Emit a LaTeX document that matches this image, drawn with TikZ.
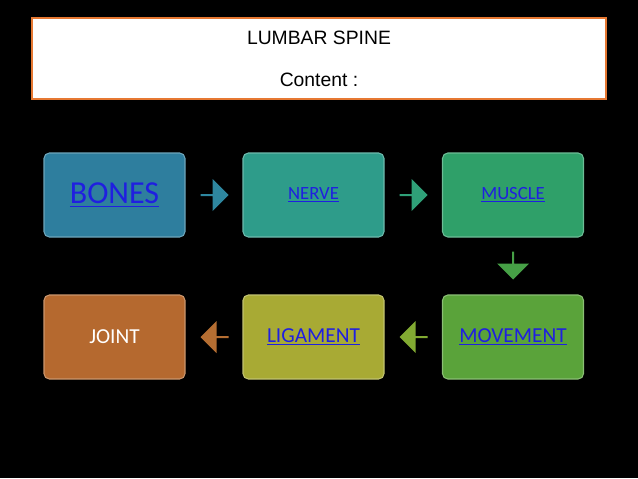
\documentclass[tikz,border=0pt]{standalone}
\usepackage{fontspec}
\setmainfont{Carlito}
\newfontfamily\titlefont{Liberation Sans}
\usetikzlibrary{shapes.arrows}
\definecolor{linkblue}{HTML}{1F1FE0}
\definecolor{cbones}{RGB}{46,126,158}
\definecolor{cnerve}{RGB}{46,156,138}
\definecolor{cmuscle}{RGB}{47,160,105}
\definecolor{cmove}{RGB}{90,163,58}
\definecolor{clig}{RGB}{168,170,52}
\definecolor{cjoint}{RGB}{181,105,47}
\definecolor{ca1}{RGB}{46,135,160}
\definecolor{ca2}{RGB}{47,160,120}
\definecolor{ca3}{RGB}{70,160,70}
\definecolor{ca4}{RGB}{130,170,50}
\definecolor{ca5}{RGB}{181,110,50}
\definecolor{corange}{RGB}{230,120,50}
\begin{document}
\begin{tikzpicture}[x=0.75pt,y=-0.75pt,
  box/.style={draw=#1!70!white, line width=0.8pt, fill=#1, rounded corners=4pt, minimum width=105.75pt, minimum height=63pt, inner sep=0pt},
  arr/.style={single arrow, fill=#1, draw=none, minimum height=21pt, minimum width=24pt, single arrow head extend=3pt, inner sep=0pt}]
\fill[black] (0,0) rectangle (638,478);
\node[draw=corange, line width=1pt, fill=white, minimum width=430.5pt, minimum height=60.75pt, inner sep=0pt] (title) at (319,58.5) {};
\node[font=\titlefont\fontsize{14.5}{16}\selectfont] (t1) at (319,38) {LUMBAR SPINE};
\node[font=\titlefont\fontsize{14.5}{16}\selectfont] (t2) at (319,80) {Content :};
\node[box=cbones] (bones) at (114.5,195) {\fontsize{24}{28}\selectfont\color{linkblue}\underline{BONES}};
\node[box=cnerve] (nerve) at (313.5,195) {\fontsize{14}{16}\selectfont\color{linkblue}\underline{NERVE}};
\node[box=cmuscle] (muscle) at (513,195) {\fontsize{14}{16}\selectfont\color{linkblue}\underline{MUSCLE}};
\node[box=cmove] (movement) at (513,337) {\fontsize{16}{18}\selectfont\color{linkblue}\underline{MOVEMENT}};
\node[box=clig] (ligament) at (313.5,337) {\fontsize{16}{18}\selectfont\color{linkblue}\underline{LIGAMENT}};
\node[box=cjoint] (joint) at (114.5,337) {\fontsize{16}{18}\selectfont\color{white}JOINT};
\node[arr=ca1] (a1) at (214,195) {};
\node[arr=ca2] (a2) at (413,195) {};
\node[arr=ca3, shape border rotate=270] (a3) at (513,265) {};
\node[arr=ca4, shape border rotate=180] (a4) at (414,337) {};
\node[arr=ca5, shape border rotate=180] (a5) at (215,337) {};
\end{tikzpicture}
\end{document}
